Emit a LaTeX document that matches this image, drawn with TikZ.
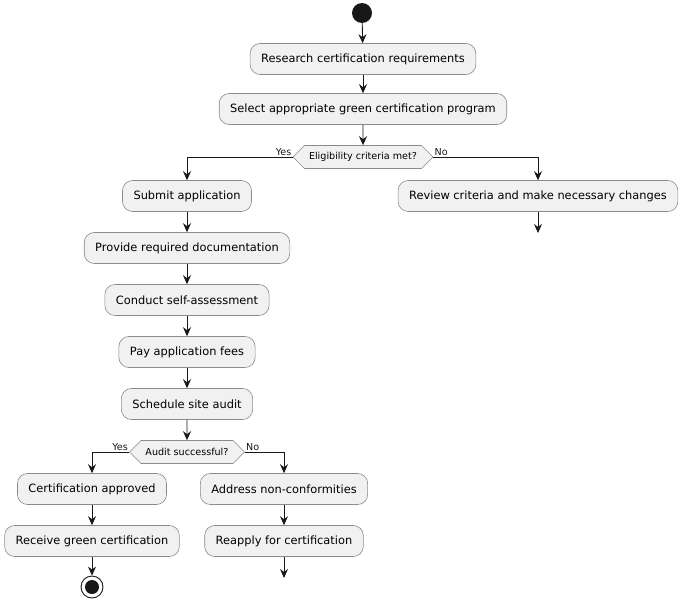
\documentclass[tikz,border=0pt]{standalone}
\usepackage{fontspec}
\setmainfont{DejaVu Sans}
\usetikzlibrary{arrows.meta,shapes.symbols}
\definecolor{boxfill}{HTML}{F1F1F1}
\definecolor{boxline}{HTML}{8A8A8A}
\definecolor{arrowc}{HTML}{181818}
\begin{document}
\begin{tikzpicture}[x=1pt,y=-1pt,
 act/.style={draw=boxline, fill=boxfill, rounded corners=10pt, minimum height=31pt, inner xsep=11pt, font=\fontsize{11.4}{13}\selectfont, line width=0.6pt},
 dec/.style={signal, signal to=west and east, signal pointer angle=90, draw=boxline, fill=boxfill, font=\fontsize{9.6}{11}\selectfont, minimum height=23pt, inner xsep=4.5pt, inner ysep=2pt, line width=0.6pt},
 flow/.style={draw=arrowc, line width=0.9pt, -{Stealth[length=9pt,width=8pt,inset=3pt]}},
 lbl/.style={font=\fontsize{9.6}{11}\selectfont, inner sep=1pt, text=arrowc}
]
\useasboundingbox (0,0) rectangle (685,602);
\node[circle, fill=arrowc, minimum size=20pt, inner sep=0pt] (start) at (362,13) {};
\node[act] (r1) at (363,59) {Research certification requirements};
\node[act] (r2) at (363,109) {Select appropriate green certification program};
\node[dec] (d1) at (363,157) {Eligibility criteria met?};
\node[act] (sub) at (187,196) {Submit application};
\node[act] (rev) at (538,196) {Review criteria and make necessary changes};
\coordinate (revend) at (538,233);
\node[act] (doc) at (187,248) {Provide required documentation};
\node[act] (self) at (187,300) {Conduct self-assessment};
\node[act] (pay) at (187,352) {Pay application fees};
\node[act] (sched) at (187,404) {Schedule site audit};
\node[dec] (d2) at (187,452) {Audit successful?};
\node[act] (appr) at (92,489) {Certification approved};
\node[act] (addr) at (284,489) {Address non-conformities};
\node[act] (recv) at (92,541) {Receive green certification};
\node[act] (reap) at (284,541) {Reapply for certification};
\coordinate (reapend) at (284,578);
\node[circle, draw=arrowc, fill=white, line width=0.9pt, minimum size=22pt, inner sep=0pt] (stop) at (92,587) {};
\node[circle, fill=arrowc, minimum size=14pt, inner sep=0pt] (stopin) at (92,587) {};

\draw[flow] (start) -- (r1);
\draw[flow] (r1) -- (r2);
\draw[flow] (r2) -- (d1);
\draw[flow] (d1.west) -| (sub);
\draw[flow] (d1.east) -| (rev);
\node[lbl, anchor=south east] at (d1.west) {Yes};
\node[lbl, anchor=south west] at (d1.east) {No};
\draw[flow] (rev) -- (revend);
\draw[flow] (sub) -- (doc);
\draw[flow] (doc) -- (self);
\draw[flow] (self) -- (pay);
\draw[flow] (pay) -- (sched);
\draw[flow] (sched) -- (d2);
\draw[flow] (d2.west) -| (appr);
\draw[flow] (d2.east) -| (addr);
\node[lbl, anchor=south east] at (d2.west) {Yes};
\node[lbl, anchor=south west] at (d2.east) {No};
\draw[flow] (appr) -- (recv);
\draw[flow] (addr) -- (reap);
\draw[flow] (reap) -- (reapend);
\draw[flow] (recv) -- (stop);
\end{tikzpicture}
\end{document}
